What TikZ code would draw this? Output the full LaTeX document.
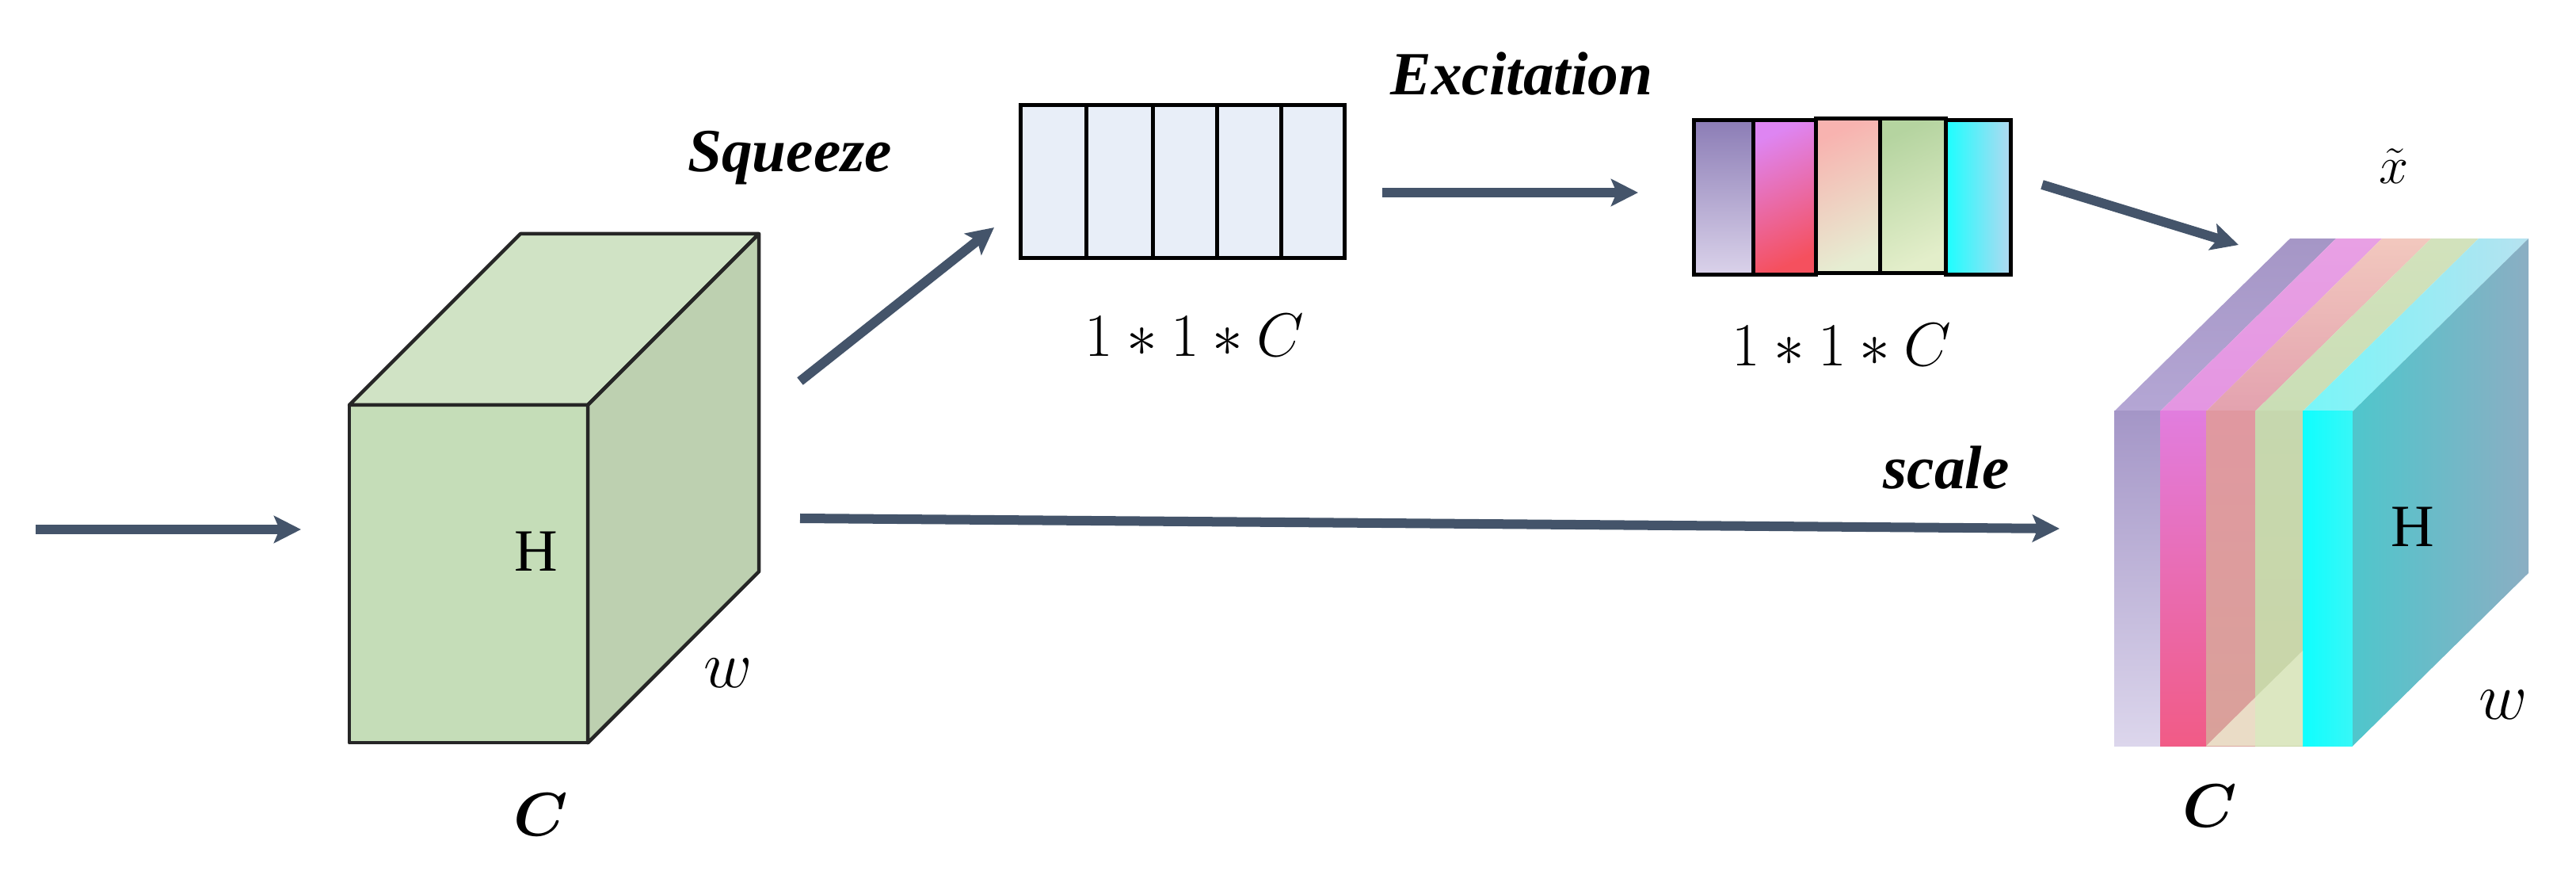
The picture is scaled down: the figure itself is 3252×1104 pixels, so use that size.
\RequirePackage{fix-cm}
\documentclass[tikz,border=0pt]{standalone}
\usepackage{bm}
\usepackage{fontspec}
\setmainfont{Liberation Serif}
\usetikzlibrary{arrows.meta}
\definecolor{arr}{HTML}{44546A}
\definecolor{cubefront}{HTML}{C5DDB8}
\definecolor{cubetop}{HTML}{D0E3C5}
\definecolor{cubeside}{HTML}{BDD0B0}
\definecolor{sqfill}{HTML}{E8EEF8}
\begin{document}
\begin{tikzpicture}[x=0.01cm,y=-0.01cm,
  flow/.style={line width=0.12cm, color=arr, -{Stealth[length=0.34cm,width=0.34cm,inset=0.07cm]}},
  cubeedge/.style={draw=black!85, line width=0.045cm, line join=round},
  cell/.style={draw=black, line width=0.05cm, inner sep=0, outer sep=0, anchor=north west},
  lbl/.style={font=\fontsize{22}{26}\selectfont\bfseries\itshape, inner sep=0, anchor=base},
  dimtxt/.style={font=\fontsize{22}{26}\selectfont, inner sep=0, anchor=base},
  slab/.style={draw=none}
]
\useasboundingbox (0,0) rectangle (3252,1104);

% ---------- input cube ----------
\node[cubeedge, fill=cubefront, minimum width=3.01cm, minimum height=4.26cm,
      inner sep=0, outer sep=0, anchor=north west] (cube) at (441,511) {};
\filldraw[cubeedge, fill=cubetop] (cube.north west) -- ++(216,-216) -- ++(301,0) -- (cube.north east) -- cycle;
\filldraw[cubeedge, fill=cubeside] (cube.north east) -- ++(216,-216) -- ++(0,426) -- (cube.south east) -- cycle;
\node[dimtxt, font=\fontsize{21.5}{26}\selectfont] (hL) at (677,721) {H};
\node[dimtxt, font=\fontsize{24}{28}\selectfont] (wL) at (919,867) {$w$};
\node[dimtxt, font=\fontsize{22}{27}\selectfont] (cL) at (683,1054) {$\bm{C}$};

% ---------- squeeze vector ----------
\foreach \i/\a/\w in {1/1288/83, 2/1371/84, 3/1455/81, 4/1536/81, 5/1617/80}
  \node[cell, fill=sqfill, minimum width=\w*0.01cm, minimum height=1.92cm] (sq\i) at (\a,133) {};
\node[dimtxt] (sqdim) at (1508,450) {$1 \ast 1 \ast C$};
\node[lbl] (squeeze) at (997,217) {Squeeze};

% ---------- excitation vector ----------
\node[cell, minimum width=0.75cm, minimum height=1.94cm, top color={rgb,255:red,140;green,125;blue,182}, bottom color={rgb,255:red,218;green,210;blue,234}] (ex1) at (2138,152) {};
\node[cell, minimum width=0.79cm, minimum height=1.94cm, top color={rgb,255:red,222;green,133;blue,242}, bottom color={rgb,255:red,245;green,80;blue,94}, shading angle=25] (ex2) at (2213,152) {};
\node[cell, minimum width=0.81cm, minimum height=1.94cm, top color={rgb,255:red,248;green,179;blue,176}, bottom color={rgb,255:red,230;green,237;blue,210}, shading angle=25] (ex3) at (2292,150) {};
\node[cell, minimum width=0.83cm, minimum height=1.94cm, top color={rgb,255:red,181;green,212;blue,160}, bottom color={rgb,255:red,227;green,238;blue,202}, shading angle=25] (ex4) at (2373,150) {};
\node[cell, minimum width=0.82cm, minimum height=1.94cm, left color={rgb,255:red,26;green,255;blue,255}, right color={rgb,255:red,178;green,216;blue,240}] (ex5) at (2456,152) {};
\node[dimtxt] (exdim) at (2325,462) {$1 \ast 1 \ast C$};
\node[lbl] (excite) at (1921,120) {Excitation};

% ---------- output block (5 translucent-looking slabs) ----------
% top faces
\shade[slab, top color={rgb,255:red,165;green,150;blue,198}, bottom color={rgb,255:red,180;green,166;blue,212}]
  (2669,519) -- (2727,519) -- (2949,301) -- (2891,301) -- cycle;
\shade[slab, top color={rgb,255:red,232;green,160;blue,228}, bottom color={rgb,255:red,228;green,150;blue,226}]
  (2727,519) -- (2785,519) -- (3007,301) -- (2949,301) -- cycle;
\shade[slab, top color={rgb,255:red,242;green,200;blue,190}, bottom color={rgb,255:red,227;green,162;blue,175}]
  (2785,519) -- (2847,519) -- (3069,301) -- (3007,301) -- cycle;
\shade[slab, top color={rgb,255:red,210;green,226;blue,188}, bottom color={rgb,255:red,202;green,222;blue,182}]
  (2847,519) -- (2907,519) -- (3129,301) -- (3069,301) -- cycle;
\shade[slab, left color={rgb,255:red,120;green,246;blue,248}, right color={rgb,255:red,182;green,226;blue,240}]
  (2907,519) -- (2970,519) -- (3192,301) -- (3129,301) -- cycle;
% front faces
\node[slab, inner sep=0, outer sep=0, anchor=north west, minimum width=0.58cm, minimum height=4.22cm,
  top color={rgb,255:red,164;green,150;blue,199}, bottom color={rgb,255:red,220;green,214;blue,236}] (o1) at (2669,519) {};
\node[slab, inner sep=0, outer sep=0, anchor=north west, minimum width=0.58cm, minimum height=4.22cm,
  top color={rgb,255:red,225;green,125;blue,222}, bottom color={rgb,255:red,241;green,91;blue,134}] (o2) at (2727,519) {};
\node[slab, inner sep=0, outer sep=0, anchor=north west, minimum width=0.62cm, minimum height=4.22cm,
  top color={rgb,255:red,224;green,152;blue,160}, bottom color={rgb,255:red,217;green,161;blue,154}] (o3) at (2785,519) {};
\node[slab, inner sep=0, outer sep=0, anchor=north west, minimum width=0.60cm, minimum height=4.22cm,
  top color={rgb,255:red,198;green,215;blue,174}, bottom color={rgb,255:red,202;green,214;blue,168}] (o4) at (2847,519) {};
\node[slab, inner sep=0, outer sep=0, anchor=north west, minimum width=0.63cm, minimum height=4.22cm,
  left color={rgb,255:red,14;green,255;blue,255}, right color={rgb,255:red,56;green,247;blue,247}] (o5) at (2907,519) {};
% see-through lower edge
\fill[color={rgb,255:red,234;green,220;blue,198}] (o3.south west) -- (o3.south east) -- (2847,880) -- cycle;
\fill[color={rgb,255:red,220;green,231;blue,193}] (o4.south west) -- (o4.south east) -- (2907,821) -- (2847,880) -- cycle;
% right side face
\shade[slab, left color={rgb,255:red,79;green,198;blue,204}, right color={rgb,255:red,139;green,174;blue,195}]
  (o5.north east) -- (3192,301) -- (3192,723) -- (o5.south east) -- cycle;
\node[dimtxt, font=\fontsize{21.5}{26}\selectfont] (hR) at (3046,690) {H};
\node[dimtxt, font=\fontsize{24}{28}\selectfont] (wR) at (3160,907) {$w$};
\node[dimtxt, font=\fontsize{22}{27}\selectfont] (cR) at (2790,1043) {$\bm{C}$};
\node[dimtxt, font=\fontsize{19}{23}\selectfont] (xt) at (3022,232) {$\tilde{x}$};
\node[lbl] (scale) at (2457,617) {scale};

% ---------- connectors ----------
\coordinate (inS) at (45,668);   \coordinate (inE) at (380,668);
\coordinate (sqS) at (1010,481); \coordinate (sqE) at (1255,287);
\coordinate (exS) at (1745,243); \coordinate (exE) at (2068,243);
\coordinate (mlS) at (2578,233); \coordinate (mlE) at (2826,309);
\coordinate (scS) at (1010,654); \coordinate (scE) at (2600,667);
\draw[flow] (inS) -- (inE);
\draw[flow] (sqS) -- (sqE);
\draw[flow] (exS) -- (exE);
\draw[flow] (mlS) -- (mlE);
\draw[flow] (scS) -- (scE);
\end{tikzpicture}
\end{document}
